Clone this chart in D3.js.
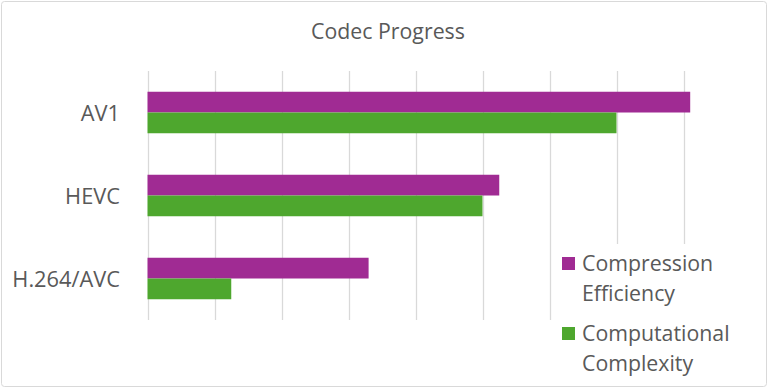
<!DOCTYPE html>
<html><head><meta charset="utf-8">
<script src="https://cdn.jsdelivr.net/npm/d3@7"></script>
<style>body{margin:0;background:#fff}svg{display:block}text{font-family:"Open Sans",sans-serif;fill:#595959}</style>
</head><body>
<svg id="c" width="768" height="390"></svg>
<script>
const categories = ["AV1", "HEVC", "H.264/AVC"];
const compressionEfficiency = [8.1, 5.25, 3.3];
const computationalComplexity = [7.0, 5.0, 1.25];
const seriesNames = ["Compression Efficiency", "Computational Complexity"];
const seriesLegendLines = [["Compression", "Efficiency"], ["Computational", "Complexity"]];
const tickValues = [0, 1, 2, 3, 4, 5, 6, 7, 8];
const colors = ["#A02B93", "#4EA72E"];

const svg = d3.select("#c");
svg.append("rect").attr("x", 1.5).attr("y", 1.5).attr("width", 765).attr("height", 385)
  .attr("rx", 3).attr("fill", "#fff").attr("stroke", "#d9d9d9").attr("stroke-width", 1);

svg.append("text").attr("x", 388).attr("y", 38.5).attr("text-anchor", "middle")
  .attr("font-size", 21.3).text("Codec Progress");

const x = d3.scaleLinear().domain([0, 8]).range([147.5, 683.5]);
const y = d3.scaleBand().domain(categories).range([71, 320]).paddingInner(0.5).paddingOuter(0.25);
const ySub = d3.scaleBand().domain(seriesNames).range([0, y.bandwidth()]);

// gridlines
svg.append("g").selectAll("line").data(tickValues).join("line")
  .attr("x1", d => Math.round(x(d)) + 0.5).attr("x2", d => Math.round(x(d)) + 0.5)
  .attr("y1", 71).attr("y2", 320).attr("stroke", "#d9d9d9").attr("stroke-width", 1.3);

const data = categories.map((c, i) => ({cat: c, vals: [compressionEfficiency[i], computationalComplexity[i]]}));
const groups = svg.append("g").selectAll("g").data(data).join("g")
  .attr("transform", d => `translate(0,${y(d.cat)})`);
groups.selectAll("rect").data(d => d.vals.map((v, j) => ({v, j}))).join("rect")
  .attr("x", x(0)).attr("y", d => ySub(seriesNames[d.j]))
  .attr("width", d => x(d.v) - x(0)).attr("height", ySub.bandwidth())
  .attr("fill", d => colors[d.j]);

// category labels
svg.append("g").selectAll("text").data(categories).join("text")
  .attr("x", 120).attr("y", d => y(d) + y.bandwidth() / 2 + 8)
  .attr("text-anchor", "end").attr("font-size", 21.8).text(d => d);

// legend
const leg = svg.append("g");
leg.append("rect").attr("x", 553).attr("y", 244).attr("width", 210).attr("height", 140).attr("fill", "#fff");
const legY = [257, 327];
seriesNames.forEach((s, i) => {
  leg.append("rect").attr("x", 562).attr("y", legY[i]).attr("width", 13).attr("height", 13).attr("fill", colors[i]);
  seriesLegendLines[i].forEach((ln, k) => {
    leg.append("text").attr("x", 582).attr("y", legY[i] + 14 + k * 29.5)
      .attr("font-size", 21.3).text(ln);
  });
});
</script>
</body></html>
